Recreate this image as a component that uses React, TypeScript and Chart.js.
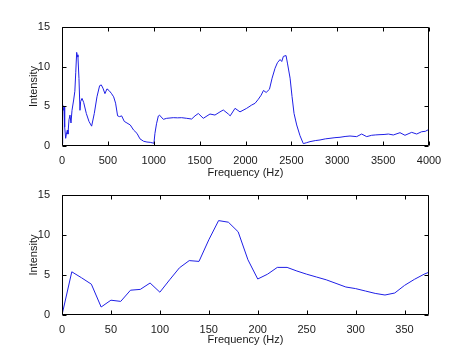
import React, { useEffect, useRef } from "react";
import { Chart, registerables } from "chart.js";

Chart.register(...registerables);

// ---- Top plot: spectrum 0–4000 Hz ----
const topFreq = [
  0, 7, 14, 22, 29, 40, 48, 58, 65, 76, 87, 98, 109, 127, 140, 150, 160, 165, 174, 185,
  196, 203, 218, 236, 265, 294, 323, 352, 381, 410, 428, 446, 468, 490, 512, 537, 563, 584,
  606, 628, 650, 679, 708, 744, 781, 817, 850, 889, 926, 962, 991, 1002, 1013, 1030, 1050,
  1062, 1105, 1141, 1213, 1260, 1304, 1359, 1413, 1450, 1486, 1540, 1613, 1667, 1722, 1758,
  1813, 1833, 1886, 1940, 2013, 2068, 2104, 2140, 2170, 2196, 2225, 2261, 2290, 2322, 2348,
  2377, 2395, 2413, 2442, 2457, 2486, 2507, 2529, 2558, 2594, 2630, 2667, 2703, 2760, 2812,
  2870, 2921, 2975, 3030, 3085, 3139, 3212, 3266, 3321, 3375, 3420, 3466, 3510, 3557, 3611,
  3684, 3738, 3811, 3866, 3920, 3960, 4000,
];
const topIntensity = [
  0.3, 5.2, 4.5, 4.9, 2.4, 0.97, 1.5, 2.0, 1.5, 3.3, 3.9, 2.9, 4.5, 5.8, 6.9, 9.3, 11.8, 11.5, 11.2, 8.5,
  4.5, 5.6, 6.0, 5.5, 4.1, 3.1, 2.5, 4.1, 6.2, 7.6, 7.7, 7.3, 6.6, 7.2, 7.0, 6.65, 6.2, 5.4,
  3.8, 3.7, 3.8, 3.1, 2.9, 2.65, 2.0, 1.6, 0.9, 0.6, 0.5, 0.46, 0.38, 0.34, 1.6, 2.8, 3.78,
  3.9, 3.36, 3.49, 3.57, 3.55, 3.57, 3.49, 3.4, 3.8, 4.1, 3.49, 4.03, 3.9, 4.3, 4.54,
  4.03, 3.8, 4.75, 4.3, 4.75, 5.17, 5.38, 5.9, 6.4, 7.0, 6.75, 7.15, 8.55, 9.8, 10.5,
  10.9, 10.65, 11.3, 11.4, 10.45, 8.55, 6.25, 4.1, 2.65, 1.3, 0.3, 0.42, 0.55, 0.68, 0.76,
  0.9, 0.97, 1.05, 1.1, 1.2, 1.26, 1.18, 1.51, 1.18, 1.35, 1.4, 1.43, 1.45, 1.51, 1.39,
  1.68, 1.35, 1.72, 1.51, 1.8, 1.85, 2.1,
];

// ---- Bottom plot: 0–375 Hz detail ----
const bottomFreq = [
  0, 10, 20, 30, 40, 50, 60, 70, 80, 90, 100, 110, 120, 130, 140, 150, 160, 170, 180, 190,
  200, 210, 220, 230, 240, 250, 260, 270, 280, 290, 300, 310, 320, 330, 340, 350, 360, 370, 380,
];
const bottomIntensity = [
  0, 5.4, 4.65, 3.85, 1.0, 1.85, 1.7, 3.1, 3.2, 4.0, 2.85, 4.4, 5.9, 6.8, 6.7, 9.4, 11.8, 11.6, 10.4, 6.9,
  4.5, 5.1, 5.95, 5.95, 5.5, 5.1, 4.75, 4.4, 3.95, 3.5, 3.3, 3.0, 2.7, 2.5, 2.75, 3.7, 4.45, 5.1, 5.6,
];

const topXTicks = [0, 500, 1000, 1500, 2000, 2500, 3000, 3500, 4000];
const bottomXTicks = [0, 50, 100, 150, 200, 250, 300, 350];
const yTicks = [0, 5, 10, 15];

const FONT = 'Arial, "Liberation Sans", Helvetica, sans-serif';
const TEXT = "#1a1a1a";
const LINE = "#1f1fe6";

const framePlugin = {
  id: "matlabFrame",
  afterDatasetsDraw(chart: any) {
    const { ctx, chartArea } = chart;
    const { left, right, top, bottom } = chartArea;
    const xs = chart.scales.x;
    const ys = chart.scales.y;
    const tl = 4;
    ctx.save();
    ctx.strokeStyle = "#000";
    ctx.lineWidth = 1;
    ctx.beginPath();
    const L = Math.round(left) + 0.5;
    const R = Math.round(right) - 0.5;
    const T = Math.round(top) + 0.5;
    const B = Math.round(bottom) - 0.5;
    ctx.rect(L, T, R - L, B - T);
    xs.ticks.forEach((t: any) => {
      const p = Math.round(xs.getPixelForValue(t.value)) + 0.5;
      ctx.moveTo(p, B);
      ctx.lineTo(p, B - tl);
      ctx.moveTo(p, T);
      ctx.lineTo(p, T + tl);
    });
    ys.ticks.forEach((t: any) => {
      const p = Math.round(ys.getPixelForValue(t.value)) + 0.5;
      ctx.moveTo(L, p);
      ctx.lineTo(L + tl, p);
      ctx.moveTo(R, p);
      ctx.lineTo(R - tl, p);
    });
    ctx.stroke();
    ctx.restore();
  },
};

function makeConfig(
  freq: number[],
  vals: number[],
  xMax: number,
  xTicks: number[],
  padTop: number,
  xAxisHeight: number,
  xTitlePad: number,
  xTickPad: number
): any {
  return {
    type: "line",
    data: {
      datasets: [
        {
          data: freq.map((f, i) => ({ x: f, y: vals[i] })),
          borderColor: LINE,
          borderWidth: 1,
          pointRadius: 0,
          tension: 0,
          fill: false,
        },
      ],
    },
    options: {
      animation: false,
      responsive: false,
      devicePixelRatio: 1,
      layout: { padding: { top: padTop, right: 45, left: 0, bottom: 0 } },
      plugins: { legend: { display: false }, tooltip: { enabled: false } },
      scales: {
        x: {
          type: "linear",
          min: 0,
          max: xMax,
          grid: { display: false },
          border: { display: false },
          afterBuildTicks: (s: any) => {
            s.ticks = xTicks.map((v) => ({ value: v }));
          },
          afterFit: (s: any) => {
            s.height = xAxisHeight;
          },
          ticks: {
            autoSkip: false,
            maxRotation: 0,
            padding: xTickPad,
            color: TEXT,
            font: { family: FONT, size: 11 },
            callback: (v: any) => String(v),
          },
          title: {
            display: true,
            text: "Frequency (Hz)",
            color: TEXT,
            font: { family: FONT, size: 11 },
            padding: { top: 0, bottom: xTitlePad },
          },
        },
        y: {
          type: "linear",
          min: 0,
          max: 15,
          grid: { display: false },
          border: { display: false },
          afterBuildTicks: (s: any) => {
            s.ticks = yTicks.map((v) => ({ value: v }));
          },
          afterFit: (s: any) => {
            s.width = 62;
          },
          ticks: {
            padding: 4,
            color: TEXT,
            font: { family: FONT, size: 11 },
            callback: (v: any) => String(v),
          },
          title: {
            display: true,
            text: "Intensity",
            color: TEXT,
            font: { family: FONT, size: 11 },
            padding: { top: 27, bottom: 0 },
          },
        },
      },
    },
    plugins: [framePlugin],
  };
}

function Plot(props: {
  top: number;
  height: number;
  freq: number[];
  vals: number[];
  xMax: number;
  xTicks: number[];
  padTop: number;
  xAxisHeight: number;
  xTitlePad: number;
  xTickPad: number;
}) {
  const ref = useRef<HTMLCanvasElement | null>(null);
  useEffect(() => {
    if (!ref.current) return;
    const chart = new Chart(
      ref.current,
      makeConfig(
        props.freq,
        props.vals,
        props.xMax,
        props.xTicks,
        props.padTop,
        props.xAxisHeight,
        props.xTitlePad,
        props.xTickPad
      )
    );
    return () => chart.destroy();
  }, []);
  return (
    <canvas
      ref={ref}
      width={474}
      height={props.height}
      style={{ position: "absolute", left: 0, top: props.top, width: 474, height: props.height }}
    />
  );
}

export default function App() {
  return (
    <div style={{ position: "absolute", left: 0, top: 0, width: 474, height: 356, background: "#fff" }}>
      <Plot
        top={0}
        height={180}
        freq={topFreq}
        vals={topIntensity}
        xMax={4000}
        xTicks={topXTicks}
        padTop={27}
        xAxisHeight={34}
        xTitlePad={0}
        xTickPad={0}
      />
      <Plot
        top={180}
        height={176}
        freq={bottomFreq}
        vals={bottomIntensity}
        xMax={375}
        xTicks={bottomXTicks}
        padTop={15}
        xAxisHeight={41}
        xTitlePad={9}
        xTickPad={0}
      />
    </div>
  );
}
